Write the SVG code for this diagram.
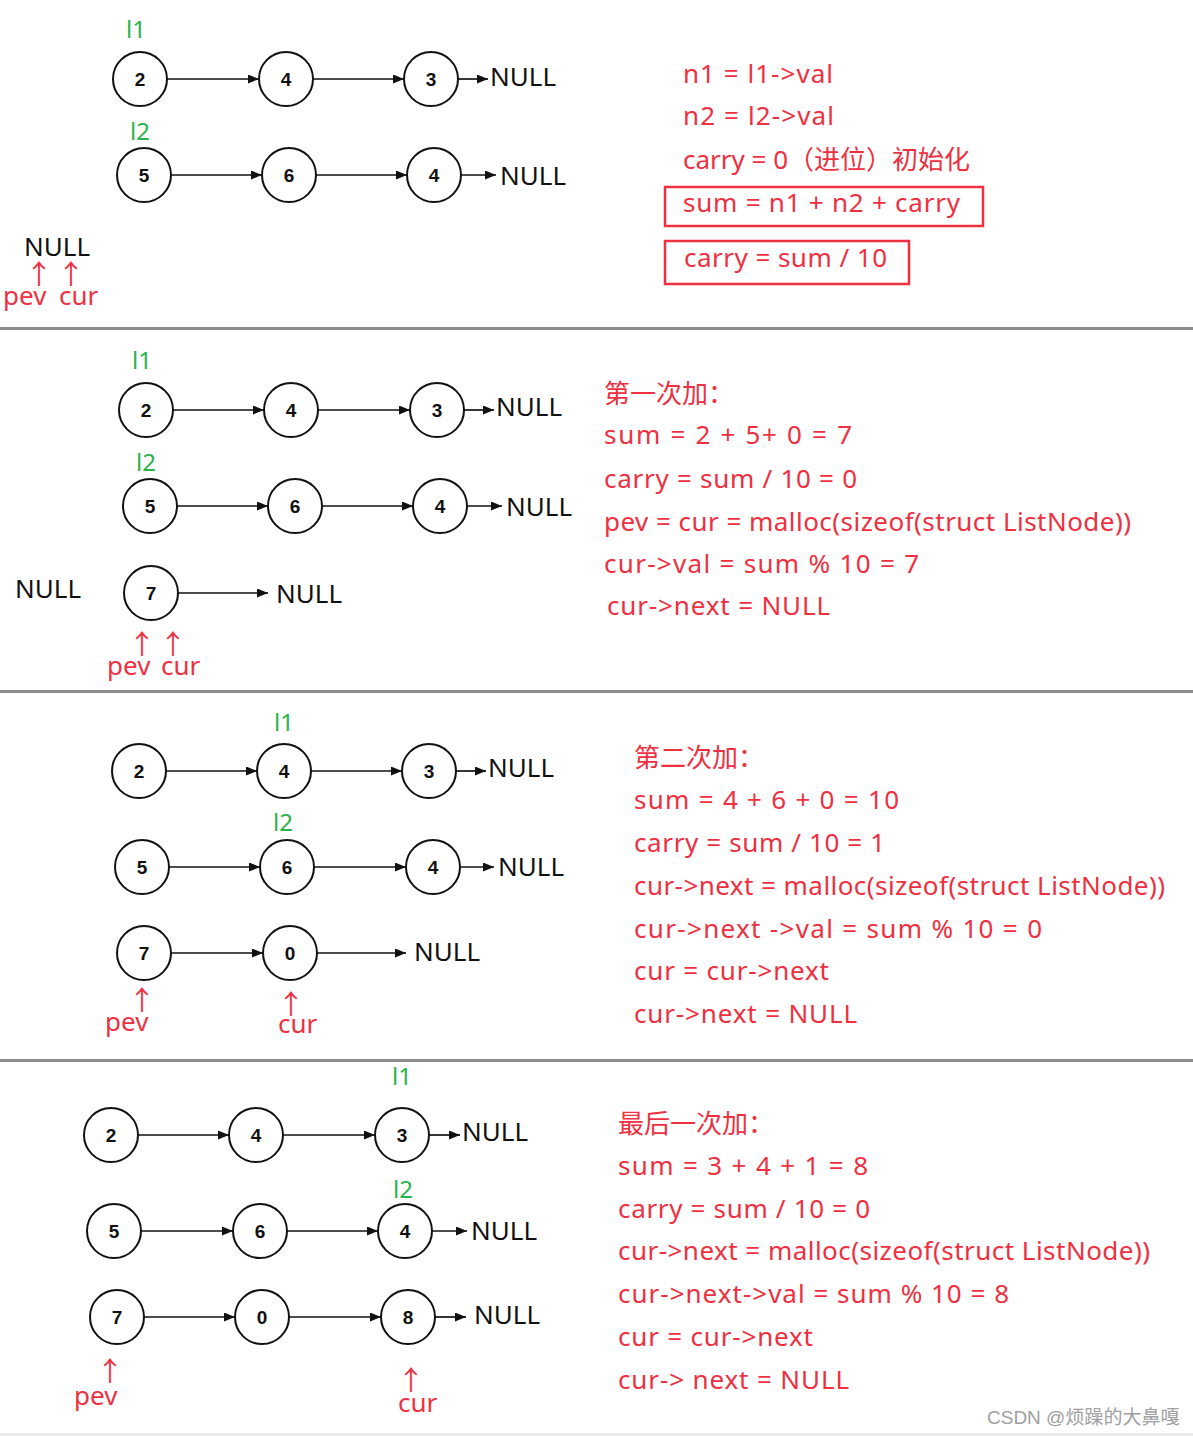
<svg xmlns="http://www.w3.org/2000/svg" width="1193" height="1436" viewBox="0 0 1193 1436">
<defs>
<marker id="ah" markerUnits="userSpaceOnUse" markerWidth="11" markerHeight="9" refX="11" refY="4.5" orient="auto">
<path d="M0,0 L11,4.5 L0,9 Z" fill="#111"/>
</marker>
<style>
.node circle{fill:#fff;stroke:#111;stroke-width:2}
.node text{font-family:"Liberation Sans",Arial,sans-serif;font-weight:bold;font-size:19px;fill:#111;text-anchor:middle}
.edge{stroke:#111;stroke-width:1.7;fill:none;marker-end:url(#ah)}
.null{font-family:"Noto Sans","Open Sans",sans-serif;font-size:26px;fill:#111}
.lbl{font-family:"Noto Sans","Open Sans",sans-serif;font-size:24px;fill:#2db34d;text-anchor:middle}
.red{font-family:"Noto Sans","Noto Sans CJK SC",sans-serif;font-size:26px;fill:#ee3041}
.ptr{font-family:"Noto Sans","Open Sans",sans-serif;font-size:26px;fill:#ee3041}
.up{font-family:"Noto Sans CJK SC",sans-serif;font-size:27px;fill:#ee3041;text-anchor:middle}
.box{fill:none;stroke:#ee3041;stroke-width:2.5}
.sep{fill:#8c8c8c}
</style>
</defs>
<rect width="1193" height="1436" fill="#fff"/>

<!-- separators -->
<rect class="sep" x="0" y="327" width="1193" height="3"/>
<rect class="sep" x="0" y="690" width="1193" height="3"/>
<rect class="sep" x="0" y="1059" width="1193" height="3"/>
<rect x="0" y="1433" width="1193" height="3" fill="#ebebeb"/>

<!-- connectors -->
<g id="connectors">
<line class="edge" x1="167" y1="79" x2="259" y2="79"/>
<line class="edge" x1="313" y1="79" x2="404" y2="79"/>
<line class="edge" x1="458" y1="79" x2="488" y2="79"/>
<line class="edge" x1="171" y1="175" x2="262" y2="175"/>
<line class="edge" x1="316" y1="175" x2="407" y2="175"/>
<line class="edge" x1="461" y1="175" x2="496" y2="175"/>

<line class="edge" x1="173" y1="410" x2="264" y2="410"/>
<line class="edge" x1="318" y1="410" x2="410" y2="410"/>
<line class="edge" x1="464" y1="410" x2="494" y2="410"/>
<line class="edge" x1="177" y1="506" x2="268" y2="506"/>
<line class="edge" x1="322" y1="506" x2="413" y2="506"/>
<line class="edge" x1="467" y1="506" x2="502" y2="506"/>
<line class="edge" x1="178" y1="593" x2="268" y2="593"/>

<line class="edge" x1="166" y1="771" x2="257" y2="771"/>
<line class="edge" x1="311" y1="771" x2="402" y2="771"/>
<line class="edge" x1="456" y1="771" x2="486" y2="771"/>
<line class="edge" x1="169" y1="867" x2="260" y2="867"/>
<line class="edge" x1="314" y1="867" x2="406" y2="867"/>
<line class="edge" x1="460" y1="867" x2="494" y2="867"/>
<line class="edge" x1="171" y1="953" x2="263" y2="953"/>
<line class="edge" x1="317" y1="953" x2="406" y2="953"/>

<line class="edge" x1="138" y1="1135" x2="229" y2="1135"/>
<line class="edge" x1="283" y1="1135" x2="375" y2="1135"/>
<line class="edge" x1="429" y1="1135" x2="460" y2="1135"/>
<line class="edge" x1="141" y1="1231" x2="233" y2="1231"/>
<line class="edge" x1="287" y1="1231" x2="378" y2="1231"/>
<line class="edge" x1="432" y1="1231" x2="467" y2="1231"/>
<line class="edge" x1="144" y1="1317" x2="235" y2="1317"/>
<line class="edge" x1="289" y1="1317" x2="381" y2="1317"/>
<line class="edge" x1="435" y1="1317" x2="466" y2="1317"/>
</g>

<!-- Section 1 -->
<g id="s1-a1" class="node"><circle cx="140" cy="79" r="27"/><text x="140" y="86">2</text></g>
<g id="s1-a2" class="node"><circle cx="286" cy="79" r="27"/><text x="286" y="86">4</text></g>
<g id="s1-a3" class="node"><circle cx="431" cy="79" r="27"/><text x="431" y="86">3</text></g>
<g id="s1-b1" class="node"><circle cx="144" cy="175" r="27"/><text x="144" y="182">5</text></g>
<g id="s1-b2" class="node"><circle cx="289" cy="175" r="27"/><text x="289" y="182">6</text></g>
<g id="s1-b3" class="node"><circle cx="434" cy="175" r="27"/><text x="434" y="182">4</text></g>
<g id="s1-labels">
<text class="lbl" x="136" y="38">l1</text>
<text class="lbl" x="140" y="140">l2</text>
<text class="null" x="490" y="86">NULL</text>
<text class="null" x="500" y="185">NULL</text>
<text class="null" x="24" y="256">NULL</text>
<text class="up" x="39" y="284">↑</text>
<text class="up" x="71" y="284">↑</text>
<text class="ptr" x="3" y="305">pev</text>
<text class="ptr" x="59" y="305">cur</text>
</g>
<g id="s1-text">
<text class="red" x="683" y="83" textLength="150">n1 = l1-&gt;val</text>
<text class="red" x="683" y="125" textLength="151">n2 = l2-&gt;val</text>
<text class="red" x="683" y="169">carry = 0（进位）初始化</text>
<rect class="box" x="665" y="187" width="318" height="39"/>
<text class="red" x="683" y="212" textLength="277">sum = n1 + n2 + carry</text>
<rect class="box" x="665" y="241" width="244" height="43"/>
<text class="red" x="684" y="267" textLength="203">carry = sum / 10</text>
</g>

<!-- Section 2 -->
<g id="s2-a1" class="node"><circle cx="146" cy="410" r="27"/><text x="146" y="417">2</text></g>
<g id="s2-a2" class="node"><circle cx="291" cy="410" r="27"/><text x="291" y="417">4</text></g>
<g id="s2-a3" class="node"><circle cx="437" cy="410" r="27"/><text x="437" y="417">3</text></g>
<g id="s2-b1" class="node"><circle cx="150" cy="506" r="27"/><text x="150" y="513">5</text></g>
<g id="s2-b2" class="node"><circle cx="295" cy="506" r="27"/><text x="295" y="513">6</text></g>
<g id="s2-b3" class="node"><circle cx="440" cy="506" r="27"/><text x="440" y="513">4</text></g>
<g id="s2-c1" class="node"><circle cx="151" cy="593" r="27"/><text x="151" y="600">7</text></g>
<g id="s2-labels">
<text class="lbl" x="142" y="369">l1</text>
<text class="lbl" x="146" y="471">l2</text>
<text class="null" x="496" y="416">NULL</text>
<text class="null" x="506" y="516">NULL</text>
<text class="null" x="15" y="598">NULL</text>
<text class="null" x="276" y="603">NULL</text>
<text class="up" x="142" y="654">↑</text>
<text class="up" x="173" y="654">↑</text>
<text class="ptr" x="107" y="675">pev</text>
<text class="ptr" x="161" y="675">cur</text>
</g>
<g id="s2-text">
<text class="red" x="604" y="403">第一次加：</text>
<text class="red" x="604" y="444" textLength="248">sum = 2 + 5+ 0  = 7</text>
<text class="red" x="604" y="488" textLength="253">carry = sum / 10 = 0</text>
<text class="red" x="604" y="531" textLength="527">pev = cur = malloc(sizeof(struct ListNode))</text>
<text class="red" x="604" y="573" textLength="315">cur-&gt;val = sum % 10  = 7</text>
<text class="red" x="607" y="615" textLength="223">cur-&gt;next = NULL</text>
</g>

<!-- Section 3 -->
<g id="s3-a1" class="node"><circle cx="139" cy="771" r="27"/><text x="139" y="778">2</text></g>
<g id="s3-a2" class="node"><circle cx="284" cy="771" r="27"/><text x="284" y="778">4</text></g>
<g id="s3-a3" class="node"><circle cx="429" cy="771" r="27"/><text x="429" y="778">3</text></g>
<g id="s3-b1" class="node"><circle cx="142" cy="867" r="27"/><text x="142" y="874">5</text></g>
<g id="s3-b2" class="node"><circle cx="287" cy="867" r="27"/><text x="287" y="874">6</text></g>
<g id="s3-b3" class="node"><circle cx="433" cy="867" r="27"/><text x="433" y="874">4</text></g>
<g id="s3-c1" class="node"><circle cx="144" cy="953" r="27"/><text x="144" y="960">7</text></g>
<g id="s3-c2" class="node"><circle cx="290" cy="953" r="27"/><text x="290" y="960">0</text></g>
<g id="s3-labels">
<text class="lbl" x="284" y="731">l1</text>
<text class="lbl" x="283" y="831">l2</text>
<text class="null" x="488" y="777">NULL</text>
<text class="null" x="498" y="876">NULL</text>
<text class="null" x="414" y="961">NULL</text>
<text class="up" x="142" y="1010">↑</text>
<text class="ptr" x="105" y="1031">pev</text>
<text class="up" x="291" y="1014">↑</text>
<text class="ptr" x="278" y="1033">cur</text>
</g>
<g id="s3-text">
<text class="red" x="634" y="767">第二次加：</text>
<text class="red" x="634" y="809" textLength="265">sum = 4 + 6 + 0 = 10</text>
<text class="red" x="634" y="852" textLength="251">carry = sum / 10 = 1</text>
<text class="red" x="634" y="895" textLength="531">cur-&gt;next = malloc(sizeof(struct ListNode))</text>
<text class="red" x="634" y="938" textLength="408">cur-&gt;next -&gt;val = sum % 10  = 0</text>
<text class="red" x="634" y="980" textLength="195">cur = cur-&gt;next</text>
<text class="red" x="634" y="1023" textLength="223">cur-&gt;next = NULL</text>
</g>

<!-- Section 4 -->
<g id="s4-a1" class="node"><circle cx="111" cy="1135" r="27"/><text x="111" y="1142">2</text></g>
<g id="s4-a2" class="node"><circle cx="256" cy="1135" r="27"/><text x="256" y="1142">4</text></g>
<g id="s4-a3" class="node"><circle cx="402" cy="1135" r="27"/><text x="402" y="1142">3</text></g>
<g id="s4-b1" class="node"><circle cx="114" cy="1231" r="27"/><text x="114" y="1238">5</text></g>
<g id="s4-b2" class="node"><circle cx="260" cy="1231" r="27"/><text x="260" y="1238">6</text></g>
<g id="s4-b3" class="node"><circle cx="405" cy="1231" r="27"/><text x="405" y="1238">4</text></g>
<g id="s4-c1" class="node"><circle cx="117" cy="1317" r="27"/><text x="117" y="1324">7</text></g>
<g id="s4-c2" class="node"><circle cx="262" cy="1317" r="27"/><text x="262" y="1324">0</text></g>
<g id="s4-c3" class="node"><circle cx="408" cy="1317" r="27"/><text x="408" y="1324">8</text></g>
<g id="s4-labels">
<text class="lbl" x="402" y="1085">l1</text>
<text class="lbl" x="403" y="1198">l2</text>
<text class="null" x="462" y="1141">NULL</text>
<text class="null" x="471" y="1240">NULL</text>
<text class="null" x="474" y="1324">NULL</text>
<text class="up" x="110" y="1381">↑</text>
<text class="ptr" x="74" y="1405">pev</text>
<text class="up" x="411" y="1390">↑</text>
<text class="ptr" x="398" y="1412">cur</text>
</g>
<g id="s4-text">
<text class="red" x="618" y="1133">最后一次加：</text>
<text class="red" x="618" y="1175" textLength="250">sum = 3 + 4 + 1 = 8</text>
<text class="red" x="618" y="1218" textLength="252">carry = sum / 10 = 0</text>
<text class="red" x="618" y="1260" textLength="532">cur-&gt;next = malloc(sizeof(struct ListNode))</text>
<text class="red" x="618" y="1303" textLength="391">cur-&gt;next-&gt;val = sum % 10 = 8</text>
<text class="red" x="618" y="1346" textLength="195">cur = cur-&gt;next</text>
<text class="red" x="618" y="1389" textLength="231">cur-&gt; next = NULL</text>
</g>

<text x="987" y="1424" font-family="'Liberation Sans','Noto Sans CJK SC',sans-serif" font-size="19" fill="#a0a0a0">CSDN @烦躁的大鼻嘎</text>
</svg>
